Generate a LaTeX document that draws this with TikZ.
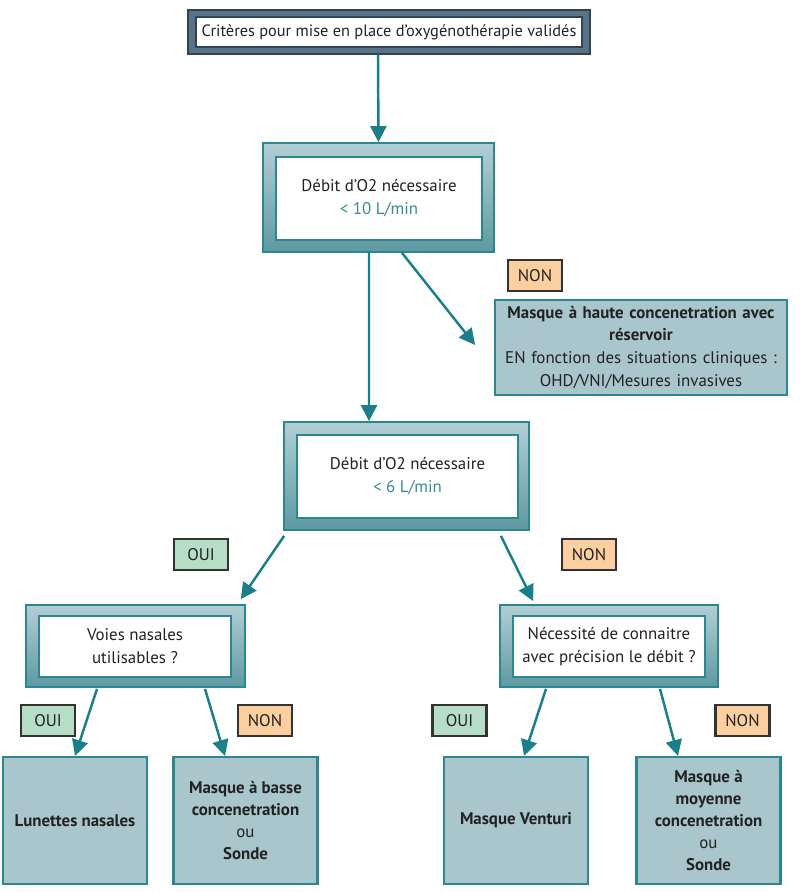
\documentclass[tikz,border=0pt]{standalone}
\usepackage{fontspec}
\setmainfont{PT Sans}
\usepackage{tikz}
\usetikzlibrary{shapes,arrows.meta,positioning}

\definecolor{arrteal}{HTML}{1B7F8A}
\definecolor{boxteal}{HTML}{2B8790}
\definecolor{gradtop}{HTML}{B3CED5}
\definecolor{gradbot}{HTML}{5E99A1}
\definecolor{endfill}{HTML}{A9C6CD}
\definecolor{slate}{HTML}{587288}
\definecolor{slatedark}{HTML}{2F4456}
\definecolor{textdark}{HTML}{222222}
\definecolor{textteal}{HTML}{3A8A92}
\definecolor{ouifill}{HTML}{B6DDC6}
\definecolor{nonfill}{HTML}{FBCF9F}
\definecolor{tagline}{HTML}{333333}

\begin{document}
\begin{tikzpicture}[x=0.02cm, y=-0.02cm, font=\fontsize{9.6}{13}\selectfont, text=textdark,
    outerbox/.style={draw=boxteal, line width=1pt, top color=gradtop, bottom color=gradbot},
    innerbox/.style={draw=boxteal, line width=1.6pt, fill=white, align=center},
    endbox/.style={draw=boxteal, line width=1.2pt, fill=endfill, align=center, font=\fontsize{9.6}{12.5}\selectfont\bfseries, minimum width=2.88cm, minimum height=2.54cm},
    tag/.style={draw=tagline, line width=1.2pt, minimum width=1.08cm, minimum height=0.62cm},
    oui/.style={tag, fill=ouifill},
    non/.style={tag, fill=nonfill},
    arr/.style={-{Triangle[length=3.2mm, width=3.2mm]}, draw=arrteal, line width=1.4pt}]
    \useasboundingbox (0,0) rectangle (800,892);

    % Start box
    \node[draw=slatedark, fill=slate, line width=0.8pt, minimum width=8.04cm, minimum height=0.88cm] (top) at (389,32) {};
    \node[draw=slatedark, fill=white, line width=0.8pt, inner xsep=0pt, minimum width=7.72cm, minimum height=0.6cm, font=\fontsize{9.3}{12}\selectfont] (topin) at (389,32) {Critères pour mise en place d’oxygénothérapie validés};

    % First question
    \node[outerbox, minimum width=4.62cm, minimum height=2.18cm] (deb10) at (378.5,197.5) {};
    \node[innerbox, minimum width=4.12cm, minimum height=1.66cm] (deb10in) at (379,198.5) {Débit d’O2 nécessaire\\\textcolor{textteal}{< 10 L/min}};

    % High concentration mask
    \node[draw=boxteal, line width=1.2pt, fill=endfill, align=center, text width=5.6cm, minimum width=5.76cm, minimum height=1.9cm] (haute) at (641,347.5) {\textbf{Masque à haute concenetration avec}\\\textbf{réservoir}\\EN fonction des situations cliniques :\\OHD/VNI/Mesures invasives};
    \node[non] (non1) at (535,275.5) {NON};

    % Second question
    \node[outerbox, minimum width=4.9cm, minimum height=2.16cm] (deb6) at (406.5,476) {};
    \node[innerbox, minimum width=4.42cm, minimum height=1.66cm] (deb6in) at (407.5,476.5) {Débit d’O2 nécessaire\\\textcolor{textteal}{< 6 L/min}};

    % Third row questions
    \node[outerbox, minimum width=4.38cm, minimum height=1.64cm] (voies) at (135.5,646) {};
    \node[innerbox, minimum width=3.84cm, minimum height=1.22cm] (voiesin) at (135,646.5) {Voies nasales\\utilisables ?};
    \node[outerbox, minimum width=4.36cm, minimum height=1.64cm] (prec) at (609,646) {};
    \node[innerbox, minimum width=3.84cm, minimum height=1.22cm] (precin) at (609,646.5) {Nécessité de connaitre\\avec précision le débit ?};
    \node[oui] (oui1) at (201,554.5) {OUI};
    \node[non] (non2) at (589,554.5) {NON};

    % Final devices
    \node[endbox] (lunettes) at (75,820.5) {Lunettes nasales};
    \node[endbox] (basse) at (245.5,820.5) {Masque à basse\\concenetration\\{\mdseries ou}\\Sonde};
    \node[endbox] (venturi) at (516,820.5) {Masque Venturi};
    \node[endbox] (moyenne) at (708.5,820.5) {Masque à\\moyenne\\concenetration\\{\mdseries ou}\\Sonde};
    \node[oui] (oui2) at (48,720.5) {OUI};
    \node[non] (non3) at (265,720.5) {NON};
    \node[oui] (oui3) at (459.5,720.5) {OUI};
    \node[non] (non4) at (742.5,720.5) {NON};

    % Arrows
    \draw[arr] ([xshift=-0.22cm]top.south) -- (deb10.north);
    \draw[arr] ([xshift=0.47cm]deb10.south) -- ([xshift=-0.38cm,yshift=0.05cm]haute.west);
    \draw[arr] ([xshift=-0.19cm]deb10.south) -- ([xshift=-0.75cm]deb6.north);
    \draw[arr] ([xshift=0.02cm,yshift=-0.1cm]deb6.south west) -- ([xshift=-0.1cm,yshift=0.1cm]voies.north east);
    \draw[arr] ([xshift=-0.58cm,yshift=-0.1cm]deb6.south east) -- ([xshift=0.68cm,yshift=0.06cm]prec.north west);
    \draw[arr] ([xshift=-0.77cm,yshift=-0.02cm]voies.south) -- (lunettes.north);
    \draw[arr] ([xshift=1.39cm,yshift=-0.02cm]voies.south) -- ([xshift=-0.41cm]basse.north);
    \draw[arr] ([xshift=-1.26cm,yshift=-0.02cm]prec.south) -- ([xshift=0.16cm]venturi.north);
    \draw[arr] ([xshift=1.02cm,yshift=-0.02cm]prec.south) -- ([xshift=-0.61cm]moyenne.north);
\end{tikzpicture}
\end{document}
